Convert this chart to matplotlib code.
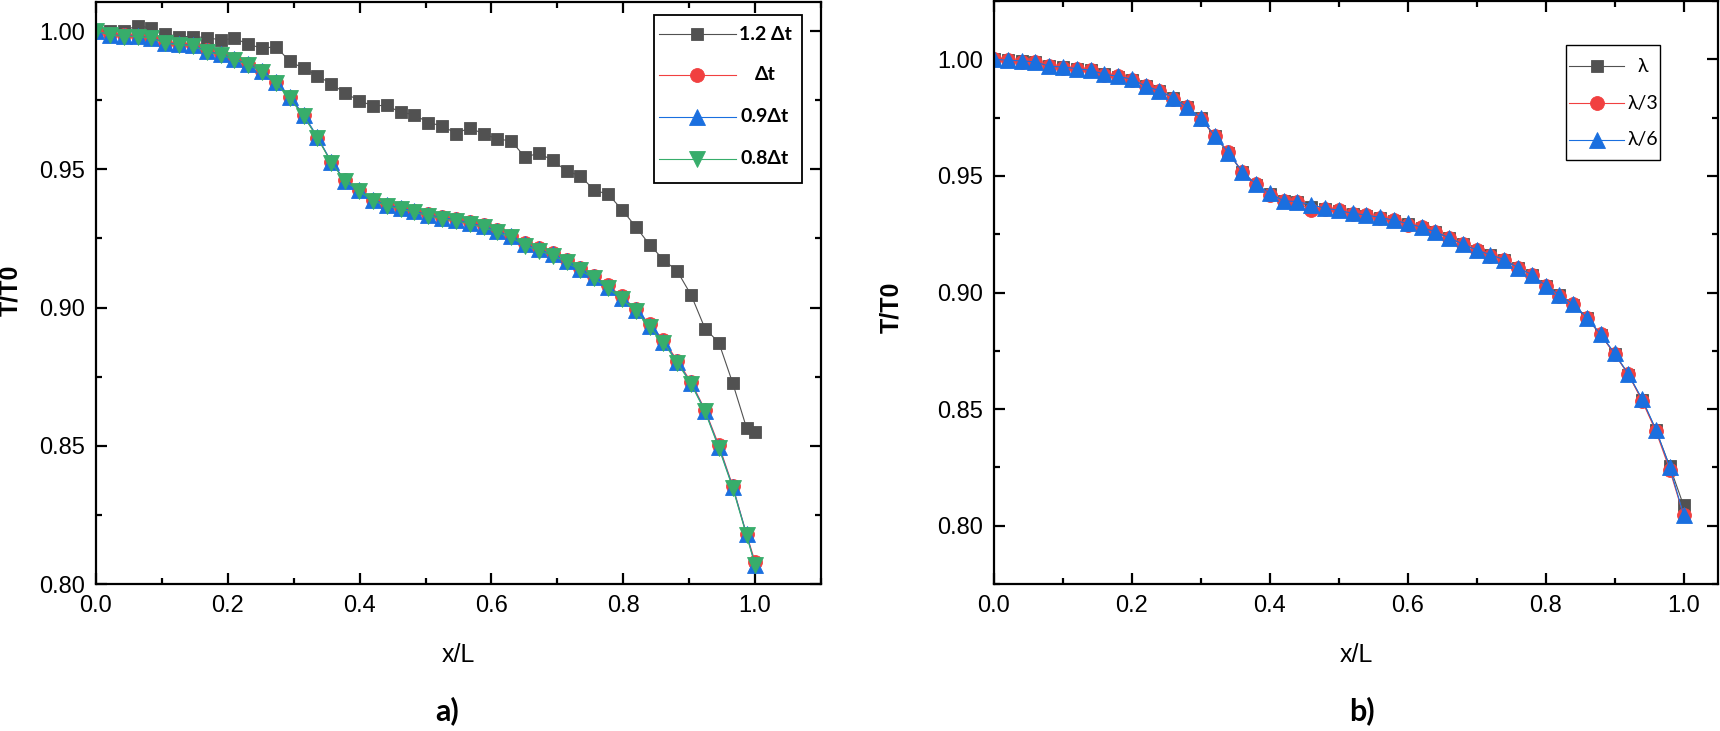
import matplotlib
matplotlib.use("Agg")
import matplotlib.pyplot as plt
from matplotlib.ticker import MultipleLocator, FormatStrFormatter
from matplotlib.font_manager import FontProperties, findfont
from matplotlib.lines import Line2D
from matplotlib.patches import Rectangle

# ---------------- data: panel a) ----------------
x_a = [0.0, 0.021, 0.042, 0.063, 0.084, 0.105, 0.126, 0.147, 0.168, 0.189,
       0.21, 0.231, 0.252, 0.273, 0.294, 0.315, 0.336, 0.357, 0.378, 0.399,
       0.42, 0.441, 0.462, 0.483, 0.504, 0.525, 0.546, 0.567, 0.588, 0.609,
       0.63, 0.651, 0.672, 0.693, 0.714, 0.735, 0.756, 0.777, 0.798, 0.819,
       0.84, 0.861, 0.882, 0.903, 0.924, 0.945, 0.966, 0.987, 1.0]

dt12 = [1.000, 1.000, 1.000, 1.002, 1.001, 0.999, 0.998, 0.998, 0.9976, 0.9968,
        0.9973, 0.9953, 0.9937, 0.9944, 0.989, 0.9865, 0.9839, 0.9808, 0.9776, 0.9748,
        0.973, 0.9731, 0.9706, 0.9698, 0.9668, 0.9658, 0.9629, 0.965, 0.9628, 0.961,
        0.9602, 0.9544, 0.9558, 0.9532, 0.9494, 0.9476, 0.9424, 0.941, 0.9354, 0.9292,
        0.9227, 0.9173, 0.9131, 0.9045, 0.8924, 0.8873, 0.8727, 0.8565, 0.855]

dt10 = [1.000, 0.9988, 0.9984, 0.9982, 0.9976, 0.9958, 0.9953, 0.995, 0.993, 0.9917,
        0.99, 0.9882, 0.9857, 0.9815, 0.976, 0.9695, 0.9614, 0.9527, 0.946, 0.9425,
        0.939, 0.9372, 0.936, 0.935, 0.9337, 0.9326, 0.932, 0.9308, 0.930, 0.928,
        0.926, 0.9232, 0.9214, 0.9196, 0.9172, 0.9142, 0.9114, 0.908, 0.904, 0.8995,
        0.894, 0.8882, 0.8808, 0.873, 0.863, 0.8502, 0.8355, 0.818, 0.808]

dt09 = [1.000, 0.9987, 0.9983, 0.9981, 0.9976, 0.9958, 0.9952, 0.9948, 0.9928, 0.9916,
        0.9899, 0.988, 0.9856, 0.9815, 0.9762, 0.9698, 0.9617, 0.9527, 0.9458, 0.9424,
        0.939, 0.9372, 0.936, 0.9348, 0.9336, 0.9325, 0.9318, 0.9306, 0.9294, 0.9276,
        0.9258, 0.9228, 0.921, 0.9192, 0.9168, 0.9138, 0.911, 0.9075, 0.9035, 0.899,
        0.8934, 0.8877, 0.8804, 0.8726, 0.8627, 0.8496, 0.8352, 0.818, 0.807]

dt08 = [1.000, 0.9986, 0.998, 0.998, 0.9974, 0.9955, 0.995, 0.9946, 0.9925, 0.9914,
        0.9896, 0.9878, 0.9853, 0.9811, 0.9757, 0.9692, 0.9614, 0.9524, 0.9457, 0.9422,
        0.9386, 0.9368, 0.9356, 0.9344, 0.9332, 0.932, 0.9314, 0.9302, 0.929, 0.9272,
        0.9254, 0.9224, 0.9206, 0.9188, 0.9164, 0.9134, 0.9105, 0.907, 0.903, 0.8986,
        0.8929, 0.8873, 0.880, 0.8723, 0.8624, 0.8492, 0.8348, 0.8176, 0.8068]

labels_a = ["1.2 \u0394t", "\u0394t", "0.9\u0394t", "0.8\u0394t"]

# ---------------- data: panel b) ----------------
x_b = [0.0, 0.02, 0.04, 0.06, 0.08, 0.10, 0.12, 0.14, 0.16, 0.18,
       0.20, 0.22, 0.24, 0.26, 0.28, 0.30, 0.32, 0.34, 0.36, 0.38,
       0.40, 0.42, 0.44, 0.46, 0.48, 0.50, 0.52, 0.54, 0.56, 0.58,
       0.60, 0.62, 0.64, 0.66, 0.68, 0.70, 0.72, 0.74, 0.76, 0.78,
       0.80, 0.82, 0.84, 0.86, 0.88, 0.90, 0.92, 0.94, 0.96, 0.98, 1.0]

lam1 = [1.000, 0.9995, 0.9992, 0.9988, 0.9972, 0.9966, 0.9959, 0.9952, 0.9935, 0.9926,
        0.9913, 0.9884, 0.9863, 0.9834, 0.9794, 0.9747, 0.967, 0.9599, 0.9516, 0.9462,
        0.9423, 0.9392, 0.9388, 0.9365, 0.9358, 0.9348, 0.9337, 0.933, 0.932, 0.9307,
        0.9292, 0.9278, 0.9258, 0.9234, 0.9206, 0.918, 0.916, 0.9139, 0.9104, 0.9075,
        0.9028, 0.8989, 0.8946, 0.8889, 0.8818, 0.8738, 0.8648, 0.854, 0.841, 0.8255, 0.8087]

lam3 = [1.000, 0.9995, 0.9988, 0.9989, 0.997, 0.9962, 0.996, 0.9953, 0.9932, 0.9927,
        0.9913, 0.9885, 0.9865, 0.983, 0.9796, 0.9745, 0.9672, 0.9602, 0.9518, 0.9464,
        0.942, 0.9393, 0.9388, 0.9352, 0.9358, 0.9352, 0.9336, 0.9332, 0.932, 0.931,
        0.929, 0.928, 0.926, 0.9235, 0.9208, 0.9182, 0.9158, 0.9141, 0.9106, 0.9077,
        0.903, 0.8985, 0.8949, 0.8892, 0.882, 0.8735, 0.865, 0.8535, 0.8405, 0.824, 0.8045]

lam6 = [1.000, 0.9996, 0.9993, 0.9989, 0.997, 0.9967, 0.996, 0.9953, 0.9936, 0.9927,
        0.9915, 0.9885, 0.9865, 0.9836, 0.9796, 0.9749, 0.9672, 0.960, 0.9518, 0.9464,
        0.9426, 0.9393, 0.939, 0.9376, 0.9362, 0.9352, 0.934, 0.9332, 0.9322, 0.931,
        0.9296, 0.928, 0.926, 0.9235, 0.9208, 0.9182, 0.9162, 0.9141, 0.9106, 0.9077,
        0.903, 0.8991, 0.8949, 0.8892, 0.882, 0.874, 0.865, 0.8543, 0.8412, 0.8251, 0.8048]

labels_b = ["\u03bb", "\u03bb/3", "\u03bb/6"]

# ---------------- style ----------------
GRAY = "#515151"
RED = "#F14040"
BLUE = "#1A6FDF"
GREEN = "#37AD6B"

plt.rcParams["font.family"] = ["Liberation Sans", "DejaVu Sans"]
TICKFONT = 17
LABELFONT = 18
CAL = ["Lato", "Open Sans", "DejaVu Sans"]
LEGFONT_A = FontProperties(family=CAL, weight="bold", size=14)
LEGFONT_B = FontProperties(family=CAL, size=14)

fig = plt.figure(figsize=(17.2, 7.31), dpi=100)
W, H = 1720.0, 731.0
ax1 = fig.add_axes([96 / W, 1 - 584 / H, (821 - 96) / W, (584 - 2) / H])
ax2 = fig.add_axes([994 / W, 1 - 584 / H, (1718 - 994) / W, (584 - 1) / H])


def fx(px):
    return px / W


def fy(py):
    return 1 - py / H


def style_axes(ax):
    for s in ax.spines.values():
        s.set_linewidth(1.6)
        s.set_color("black")
    ax.xaxis.set_major_locator(MultipleLocator(0.2))
    ax.xaxis.set_minor_locator(MultipleLocator(0.1))
    ax.yaxis.set_major_locator(MultipleLocator(0.05))
    ax.yaxis.set_minor_locator(MultipleLocator(0.025))
    ax.xaxis.set_major_formatter(FormatStrFormatter("%.1f"))
    ax.yaxis.set_major_formatter(FormatStrFormatter("%.2f"))
    ax.tick_params(which="both", direction="in", top=True, right=True,
                   labeltop=False, labelright=False, width=1.6,
                   labelsize=TICKFONT)
    ax.tick_params(which="major", length=8, pad=8)
    ax.tick_params(which="minor", length=4)


def manual_legend(ax, box, rows, hx0, hx1, mx, tx, styles, labels, fp, edge_lw):
    x0, y0, x1, y1 = box
    ax.add_patch(Rectangle((fx(x0), fy(y1)), fx(x1) - fx(x0), fy(y0) - fy(y1),
                           transform=fig.transFigure, facecolor="white",
                           edgecolor="black", lw=edge_lw, zorder=10, clip_on=False))
    for ry, st, lab in zip(rows, styles, labels):
        ln = Line2D([fx(hx0), fx(mx), fx(hx1)], [fy(ry)] * 3, transform=fig.transFigure,
                    markevery=[1], clip_on=False, zorder=11, **st)
        ax.add_line(ln)
        ax.text(fx(tx), fy(ry), lab, transform=fig.transFigure, ha="center",
                va="center", fontproperties=fp, zorder=12, clip_on=False)


st_sq = dict(color=GRAY, lw=0.8, marker="s", ms=9, mfc=GRAY, mec=GRAY, mew=0.6)
st_ci = dict(color=RED, lw=0.8, marker="o", ms=10, mfc=RED, mec=RED, mew=0.6)
st_up = dict(color=BLUE, lw=0.8, marker="^", ms=11.5, mfc=BLUE, mec=BLUE, mew=0.6)
st_dn = dict(color=GREEN, lw=0.8, marker="v", ms=11.5, mfc=GREEN, mec=GREEN, mew=0.6)

# ---------- panel a ----------
ax1.plot(x_a, dt12, **st_sq)
ax1.plot(x_a, dt10, **st_ci)
ax1.plot(x_a, dt09, **st_up)
ax1.plot(x_a, dt08, **st_dn)
ax1.set_xlim(0, 1.1)
ax1.set_ylim(0.80, 1.0105)
style_axes(ax1)
ax1.set_xlabel("x/L", fontsize=LABELFONT)
ax1.set_ylabel("T/T0", fontsize=LABELFONT, fontweight="bold")
ax1.xaxis.set_label_coords(0.5, (584 - 643) / 582)
ax1.yaxis.set_label_coords((22 - 96) / 725, 0.505)

manual_legend(ax1, (654, 15, 802, 183), [34, 75, 117, 159], 659, 736, 697, 765,
              [st_sq, st_ci, st_up, st_dn], labels_a, LEGFONT_A, 1.3)

# ---------- panel b ----------
ax2.plot(x_b, lam1, **st_sq)
ax2.plot(x_b, lam3, **st_ci)
ax2.plot(x_b, lam6, **st_up)
ax2.set_xlim(0, 1.05)
ax2.set_ylim(0.775, 1.025)
style_axes(ax2)
ax2.set_xlabel("x/L", fontsize=LABELFONT)
ax2.set_ylabel("T/T0", fontsize=LABELFONT, fontweight="bold")
ax2.xaxis.set_label_coords(0.5, (584 - 643) / 583)
ax2.yaxis.set_label_coords((903 - 994) / 724, 0.475)

manual_legend(ax2, (1566, 45, 1660, 160), [66, 103, 140], 1569, 1624, 1597, 1643,
              [st_sq, st_ci, st_up], labels_b, LEGFONT_B, 1.0)

# panel tags
tagfont = FontProperties(family=CAL, weight="bold", size=22)
fig.text(447 / W, 1 - 711 / H, "a)", ha="center", va="center", fontproperties=tagfont)
fig.text(1362 / W, 1 - 711 / H, "b)", ha="center", va="center", fontproperties=tagfont)

fig.savefig("out.png", dpi=100)
